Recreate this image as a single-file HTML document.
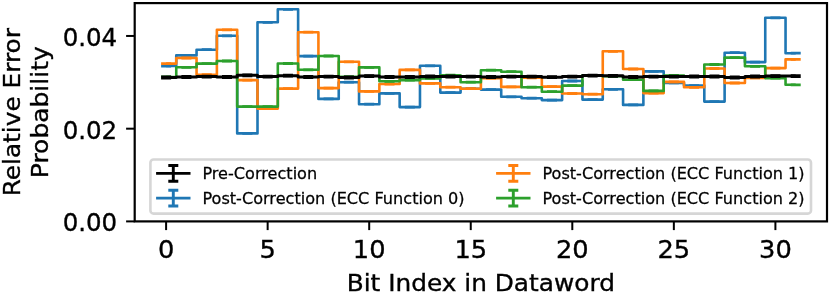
<!DOCTYPE html>
<html><head><meta charset="utf-8"><title>Relative Error Probability</title>
<style>html,body{margin:0;padding:0;background:#fff}svg{display:block}text{font-family:"DejaVu Sans","Liberation Sans",sans-serif;fill:#000}</style></head><body>
<svg width="830" height="293" viewBox="0 0 830 293">
<rect width="830" height="293" fill="#fff"/>
<path d="M166.10,66.00H176.25V55.40H196.56V49.70H216.88V35.80H237.19V133.40H257.50V22.30H277.81V9.30H298.12V56.10H318.42V98.90H338.74V82.20H359.04V104.20H379.36V93.40H399.66V107.10H419.97V65.80H440.28V92.60H460.60V88.70H480.90V89.60H501.21V96.80H521.52V98.20H541.83V100.10H562.14V81.00H582.45V99.60H602.76V89.30H623.07V104.90H643.38V71.40H663.69V82.90H684.00V85.60H704.31V101.60H724.62V52.70H744.93V62.10H765.25V17.80H785.55V53.20H795.71" fill="none" stroke="#1f77b4" stroke-width="2.6" stroke-linejoin="round" stroke-linecap="butt"/>
<path d="M161.10,65.90h10M161.10,66.10h10M181.41,55.30h10M181.41,55.50h10M201.72,49.60h10M201.72,49.80h10M222.03,35.70h10M222.03,35.90h10M242.34,133.30h10M242.34,133.50h10M262.65,22.20h10M262.65,22.40h10M282.96,9.20h10M282.96,9.40h10M303.27,56.00h10M303.27,56.20h10M323.58,98.80h10M323.58,99.00h10M343.89,82.10h10M343.89,82.30h10M364.20,104.10h10M364.20,104.30h10M384.51,93.30h10M384.51,93.50h10M404.82,107.00h10M404.82,107.20h10M425.13,65.70h10M425.13,65.90h10M445.44,92.50h10M445.44,92.70h10M465.75,88.60h10M465.75,88.80h10M486.06,89.50h10M486.06,89.70h10M506.37,96.70h10M506.37,96.90h10M526.68,98.10h10M526.68,98.30h10M546.99,100.00h10M546.99,100.20h10M567.30,80.90h10M567.30,81.10h10M587.61,99.50h10M587.61,99.70h10M607.92,89.20h10M607.92,89.40h10M628.23,104.80h10M628.23,105.00h10M648.54,71.30h10M648.54,71.50h10M668.85,82.80h10M668.85,83.00h10M689.16,85.50h10M689.16,85.70h10M709.47,101.50h10M709.47,101.70h10M729.78,52.60h10M729.78,52.80h10M750.09,62.00h10M750.09,62.20h10M770.40,17.70h10M770.40,17.90h10M790.71,53.10h10M790.71,53.30h10" fill="none" stroke="#1f77b4" stroke-width="2.6"/>
<path d="M166.10,63.60H176.25V58.00H196.56V74.70H216.88V29.80H237.19V80.10H257.50V108.60H277.81V88.60H298.12V32.20H318.42V88.10H338.74V61.80H359.04V91.40H379.36V84.00H399.66V69.90H419.97V83.40H440.28V87.20H460.60V88.70H480.90V78.20H501.21V86.90H521.52V77.80H541.83V86.60H562.14V93.50H582.45V94.20H602.76V51.30H623.07V69.00H643.38V93.10H663.69V81.90H684.00V87.30H704.31V68.50H724.62V83.00H744.93V77.90H765.25V68.10H785.55V59.40H795.71" fill="none" stroke="#ff7f0e" stroke-width="2.6" stroke-linejoin="round" stroke-linecap="butt"/>
<path d="M161.10,63.50h10M161.10,63.70h10M181.41,57.90h10M181.41,58.10h10M201.72,74.60h10M201.72,74.80h10M222.03,29.70h10M222.03,29.90h10M242.34,80.00h10M242.34,80.20h10M262.65,108.50h10M262.65,108.70h10M282.96,88.50h10M282.96,88.70h10M303.27,32.10h10M303.27,32.30h10M323.58,88.00h10M323.58,88.20h10M343.89,61.70h10M343.89,61.90h10M364.20,91.30h10M364.20,91.50h10M384.51,83.90h10M384.51,84.10h10M404.82,69.80h10M404.82,70.00h10M425.13,83.30h10M425.13,83.50h10M445.44,87.10h10M445.44,87.30h10M465.75,88.60h10M465.75,88.80h10M486.06,78.10h10M486.06,78.30h10M506.37,86.80h10M506.37,87.00h10M526.68,77.70h10M526.68,77.90h10M546.99,86.50h10M546.99,86.70h10M567.30,93.40h10M567.30,93.60h10M587.61,94.10h10M587.61,94.30h10M607.92,51.20h10M607.92,51.40h10M628.23,68.90h10M628.23,69.10h10M648.54,93.00h10M648.54,93.20h10M668.85,81.80h10M668.85,82.00h10M689.16,87.20h10M689.16,87.40h10M709.47,68.40h10M709.47,68.60h10M729.78,82.90h10M729.78,83.10h10M750.09,77.80h10M750.09,78.00h10M770.40,68.00h10M770.40,68.20h10M790.71,59.30h10M790.71,59.50h10" fill="none" stroke="#ff7f0e" stroke-width="2.6"/>
<path d="M166.10,77.00H176.25V67.30H196.56V63.60H216.88V61.00H237.19V106.60H257.50V106.60H277.81V63.50H298.12V69.80H318.42V56.00H338.74V76.80H359.04V67.40H379.36V81.30H399.66V80.10H419.97V78.40H440.28V75.20H460.60V82.20H480.90V70.20H501.21V71.70H521.52V87.20H541.83V91.70H562.14V85.60H582.45V75.40H602.76V76.30H623.07V79.70H643.38V90.90H663.69V75.50H684.00V76.60H704.31V64.50H724.62V57.60H744.93V66.30H765.25V78.10H785.55V84.80H795.71" fill="none" stroke="#2ca02c" stroke-width="2.6" stroke-linejoin="round" stroke-linecap="butt"/>
<path d="M161.10,76.90h10M161.10,77.10h10M181.41,67.20h10M181.41,67.40h10M201.72,63.50h10M201.72,63.70h10M222.03,60.90h10M222.03,61.10h10M242.34,106.50h10M242.34,106.70h10M262.65,106.50h10M262.65,106.70h10M282.96,63.40h10M282.96,63.60h10M303.27,69.70h10M303.27,69.90h10M323.58,55.90h10M323.58,56.10h10M343.89,76.70h10M343.89,76.90h10M364.20,67.30h10M364.20,67.50h10M384.51,81.20h10M384.51,81.40h10M404.82,80.00h10M404.82,80.20h10M425.13,78.30h10M425.13,78.50h10M445.44,75.10h10M445.44,75.30h10M465.75,82.10h10M465.75,82.30h10M486.06,70.10h10M486.06,70.30h10M506.37,71.60h10M506.37,71.80h10M526.68,87.10h10M526.68,87.30h10M546.99,91.60h10M546.99,91.80h10M567.30,85.50h10M567.30,85.70h10M587.61,75.30h10M587.61,75.50h10M607.92,76.20h10M607.92,76.40h10M628.23,79.60h10M628.23,79.80h10M648.54,90.80h10M648.54,91.00h10M668.85,75.40h10M668.85,75.60h10M689.16,76.50h10M689.16,76.70h10M709.47,64.40h10M709.47,64.60h10M729.78,57.50h10M729.78,57.70h10M750.09,66.20h10M750.09,66.40h10M770.40,78.00h10M770.40,78.20h10M790.71,84.70h10M790.71,84.90h10" fill="none" stroke="#2ca02c" stroke-width="2.6"/>
<path d="M166.10,77.50H176.25V77.00H196.56V76.60H216.88V77.00H237.19V75.30H257.50V76.60H277.81V75.70H298.12V77.00H318.42V76.60H338.74V77.50H359.04V76.10H379.36V77.00H399.66V77.00H419.97V76.50H440.28V76.50H460.60V76.60H480.90V77.00H501.21V76.60H521.52V76.60H541.83V77.20H562.14V76.60H582.45V75.60H602.76V75.80H623.07V77.00H643.38V76.60H663.69V76.60H684.00V76.50H704.31V76.50H724.62V77.50H744.93V76.50H765.25V76.10H785.55V76.10H795.71" fill="none" stroke="#000" stroke-width="3.0" stroke-linejoin="round"/>
<path d="M161.10,76.90h10M161.10,78.10h10M181.41,76.40h10M181.41,77.60h10M201.72,76.00h10M201.72,77.20h10M222.03,76.40h10M222.03,77.60h10M242.34,74.70h10M242.34,75.90h10M262.65,76.00h10M262.65,77.20h10M282.96,75.10h10M282.96,76.30h10M303.27,76.40h10M303.27,77.60h10M323.58,76.00h10M323.58,77.20h10M343.89,76.90h10M343.89,78.10h10M364.20,75.50h10M364.20,76.70h10M384.51,76.40h10M384.51,77.60h10M404.82,76.40h10M404.82,77.60h10M425.13,75.90h10M425.13,77.10h10M445.44,75.90h10M445.44,77.10h10M465.75,76.00h10M465.75,77.20h10M486.06,76.40h10M486.06,77.60h10M506.37,76.00h10M506.37,77.20h10M526.68,76.00h10M526.68,77.20h10M546.99,76.60h10M546.99,77.80h10M567.30,76.00h10M567.30,77.20h10M587.61,75.00h10M587.61,76.20h10M607.92,75.20h10M607.92,76.40h10M628.23,76.40h10M628.23,77.60h10M648.54,76.00h10M648.54,77.20h10M668.85,76.00h10M668.85,77.20h10M689.16,75.90h10M689.16,77.10h10M709.47,75.90h10M709.47,77.10h10M729.78,76.90h10M729.78,78.10h10M750.09,75.90h10M750.09,77.10h10M770.40,75.50h10M770.40,76.70h10M790.71,75.50h10M790.71,76.70h10" fill="none" stroke="#000" stroke-width="2.6"/>
<rect x="150.4" y="159.5" width="660.6" height="54.1" rx="3.2" ry="3.2" fill="#fff" fill-opacity="0.8" stroke="#ccc" stroke-opacity="0.8" stroke-width="2.6"/>
<path d="M156.1,173.35h34.4M173.3,165.45v15.8M168.3,165.45h10M168.3,181.25h10" fill="none" stroke="#000" stroke-width="2.9"/>
<text transform="translate(202.4,179.0) scale(1.008,1)" font-size="16" stroke="#000" stroke-width="0.25">Pre-Correction</text>
<path d="M156.1,198.1h34.4M173.3,190.2v15.8M168.3,190.2h10M168.3,206.0h10" fill="none" stroke="#1f77b4" stroke-width="2.9"/>
<text transform="translate(202.4,203.9) scale(1.008,1)" font-size="16" stroke="#000" stroke-width="0.25">Post-Correction (ECC Function 0)</text>
<path d="M496.1,173.35h34.4M513.3,165.45v15.8M508.29999999999995,165.45h10M508.29999999999995,181.25h10" fill="none" stroke="#ff7f0e" stroke-width="2.9"/>
<text transform="translate(542.4,179.0) scale(1.008,1)" font-size="16" stroke="#000" stroke-width="0.25">Post-Correction (ECC Function 1)</text>
<path d="M496.1,198.1h34.4M513.3,190.2v15.8M508.29999999999995,190.2h10M508.29999999999995,206.0h10" fill="none" stroke="#2ca02c" stroke-width="2.9"/>
<text transform="translate(542.4,203.9) scale(1.008,1)" font-size="16" stroke="#000" stroke-width="0.25">Post-Correction (ECC Function 2)</text>
<rect x="134.7" y="3.1" width="692.3" height="218.3" fill="none" stroke="#000" stroke-width="2.2"/>
<path d="M166.10,221.4v8.7" stroke="#000" stroke-width="2"/>
<text transform="translate(166.10,257.5) scale(1.05,1)" font-size="24.5" stroke="#000" stroke-width="0.35" text-anchor="middle">0</text>
<path d="M267.65,221.4v8.7" stroke="#000" stroke-width="2"/>
<text transform="translate(267.65,257.5) scale(1.05,1)" font-size="24.5" stroke="#000" stroke-width="0.35" text-anchor="middle">5</text>
<path d="M369.20,221.4v8.7" stroke="#000" stroke-width="2"/>
<text transform="translate(369.20,257.5) scale(1.05,1)" font-size="24.5" stroke="#000" stroke-width="0.35" text-anchor="middle">10</text>
<path d="M470.75,221.4v8.7" stroke="#000" stroke-width="2"/>
<text transform="translate(470.75,257.5) scale(1.05,1)" font-size="24.5" stroke="#000" stroke-width="0.35" text-anchor="middle">15</text>
<path d="M572.30,221.4v8.7" stroke="#000" stroke-width="2"/>
<text transform="translate(572.30,257.5) scale(1.05,1)" font-size="24.5" stroke="#000" stroke-width="0.35" text-anchor="middle">20</text>
<path d="M673.85,221.4v8.7" stroke="#000" stroke-width="2"/>
<text transform="translate(673.85,257.5) scale(1.05,1)" font-size="24.5" stroke="#000" stroke-width="0.35" text-anchor="middle">25</text>
<path d="M775.40,221.4v8.7" stroke="#000" stroke-width="2"/>
<text transform="translate(775.40,257.5) scale(1.05,1)" font-size="24.5" stroke="#000" stroke-width="0.35" text-anchor="middle">30</text>
<path d="M134.7,221.40h-8.6" stroke="#000" stroke-width="2"/>
<text transform="translate(117.2,231.30) scale(1.0,1)" font-size="24.5" stroke="#000" stroke-width="0.35" text-anchor="end">0.00</text>
<path d="M134.7,128.68h-8.6" stroke="#000" stroke-width="2"/>
<text transform="translate(117.2,138.58) scale(1.0,1)" font-size="24.5" stroke="#000" stroke-width="0.35" text-anchor="end">0.02</text>
<path d="M134.7,35.96h-8.6" stroke="#000" stroke-width="2"/>
<text transform="translate(117.2,45.86) scale(1.0,1)" font-size="24.5" stroke="#000" stroke-width="0.35" text-anchor="end">0.04</text>
<text transform="translate(480.75,290.9) scale(1.042,1)" font-size="23.8" stroke="#000" stroke-width="0.35" text-anchor="middle">Bit Index in Dataword</text>
<text transform="translate(19.8,112.2) rotate(-90) scale(1.0425,1)" font-size="23.8" stroke="#000" stroke-width="0.35" text-anchor="middle">Relative Error</text>
<text transform="translate(47.6,112.25) rotate(-90) scale(1.0497,1)" font-size="23.8" stroke="#000" stroke-width="0.35" text-anchor="middle">Probability</text>
</svg></body></html>
